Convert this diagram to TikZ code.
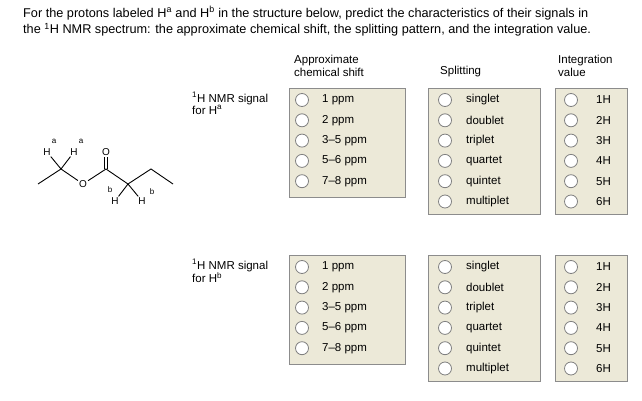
\documentclass[tikz,border=0pt]{standalone}
\usepackage{fontspec}
\setmainfont{Liberation Sans}
\definecolor{boxfill}{HTML}{ECE9D8}
\definecolor{boxline}{HTML}{8C8C8C}
\begin{document}
\begin{tikzpicture}[x=1pt,y=-1pt,
  txt/.style={inner sep=0pt,anchor=west,font=\fontsize{12.7}{14}\selectfont},
  item/.style={inner sep=0pt,anchor=west,font=\fontsize{11.5}{11}\selectfont},
  panel/.style={draw=boxline,fill=boxfill,line width=0.8pt},
  radio/.style={circle,draw=gray,fill=white,line width=0.8pt,minimum size=13pt,inner sep=0pt},
  atom/.style={inner sep=1pt,font=\fontsize{10}{10}\selectfont},
  lbl/.style={inner sep=0pt,font=\fontsize{8}{8}\selectfont},
  bond/.style={line width=0.9pt}]
\useasboundingbox (0,0) rectangle (642,401);
\fill[white] (0,0) rectangle (642,401);
\node[txt] (l1) at (23,13) {For the protons labeled H\textsuperscript{a} and H\textsuperscript{b} in the structure below, predict the characteristics of their signals in};
\node[txt] (l2) at (23,30) {the \textsuperscript{1}H NMR spectrum: the approximate chemical shift, the splitting pattern, and the integration value.};
\node[item] (h1) at (294,61) {Approximate};
\node[item] (h2) at (294,72) {chemical shift};
\node[item] (h3) at (440,72) {Splitting};
\node[item] (h4) at (558,61) {Integration};
\node[item] (h5) at (558,72) {value};
% molecule
\coordinate (c1) at (38,184);
\coordinate (c2) at (61,169);
\node[atom] (ha1) at (47,152) {H};
\node[atom] (ha2) at (74,152) {H};
\node[lbl] (la1) at (54,141) {a};
\node[lbl] (la2) at (81,141) {a};
\node[atom] (o1) at (83,184) {O};
\coordinate (c3) at (106,169);
\node[atom] (o2) at (106,152) {O};
\coordinate (c4) at (128,184);
\node[atom] (hb1) at (115,201) {H};
\node[atom] (hb2) at (142,201) {H};
\node[lbl] (lb1) at (110,190) {b};
\node[lbl] (lb2) at (152,192) {b};
\coordinate (c5) at (151,169);
\coordinate (c6) at (173,184);
\draw[bond] (c1) -- (c2) -- (o1) -- (c3) -- (c4) -- (c5) -- (c6);
\draw[bond] (c2) -- (ha1); \draw[bond] (c2) -- (ha2);
\draw[bond] (c4) -- (hb1); \draw[bond] (c4) -- (hb2);
\draw[bond] ([xshift=-1.5pt]c3) -- ([xshift=-1.5pt]o2.south);
\draw[bond] ([xshift=1.5pt]c3) -- ([xshift=1.5pt]o2.south);
% sections
\foreach \s/\top/\sup in {A/88/a,B/255/b}{
  \node[item,anchor=north west,align=left] (sig\s) at (192,\top+4) {\textsuperscript{1}H NMR signal\\for H\textsuperscript{\sup}};
  \draw[panel] (289,\top) rectangle (405,\top+109);
  \draw[panel] (428,\top) rectangle (540,\top+126);
  \draw[panel] (555,\top) rectangle (627,\top+126);
  \foreach \t [count=\i] in {1 ppm,2 ppm,3--5 ppm,5--6 ppm,7--8 ppm}{
    \pgfmathsetmacro{\yy}{\top+12+(\i-1)*20.3}
    \node[radio] (rs\s\i) at (302,\yy) {};
    \node[item] (ts\s\i) at (322,\yy) {\t};
  }
  \foreach \t [count=\i] in {singlet,doublet,triplet,quartet,quintet,multiplet}{
    \pgfmathsetmacro{\yy}{\top+12+(\i-1)*20.3}
    \node[radio] (rp\s\i) at (445,\yy) {};
    \node[item] (tp\s\i) at (466,\yy) {\t};
    \node[radio] (ri\s\i) at (571,\yy) {};
    \node[item,anchor=east] (ti\s\i) at (611,\yy) {\i H};
  }
}
\end{tikzpicture}
\end{document}
